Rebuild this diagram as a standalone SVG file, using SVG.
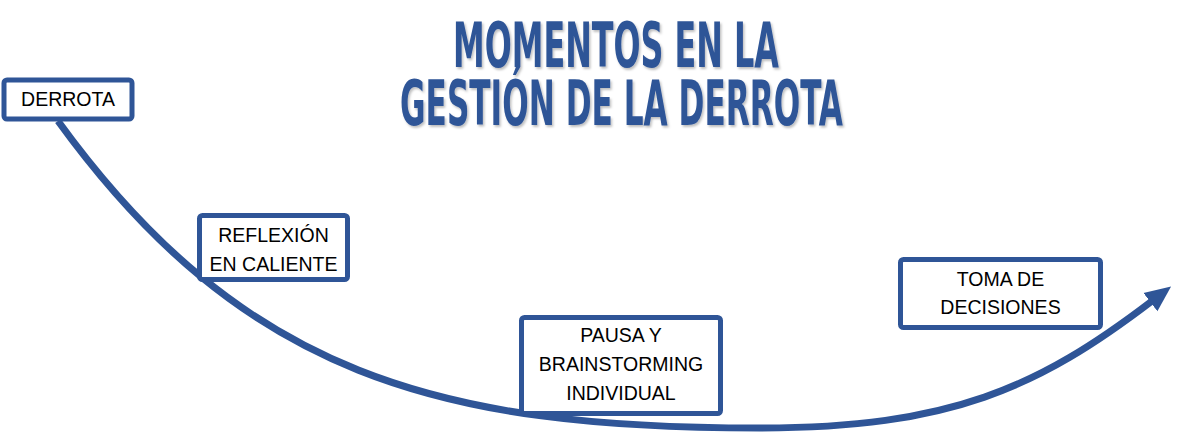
<svg xmlns="http://www.w3.org/2000/svg" width="1196" height="436" viewBox="0 0 1196 436">
<style>
.box{fill:#ffffff;stroke:#2F5597;stroke-width:5}
.lbl{font-family:"Liberation Sans",Arial,sans-serif;font-size:19.5px;fill:#000000;text-anchor:middle}
.title{font-family:"Liberation Sans Narrow","DejaVu Sans Condensed","Liberation Sans",sans-serif;font-weight:bold;font-size:62px;fill:#2F5597}
.conn{fill:none;stroke:#2F5597;stroke-width:7}
</style>
<defs>
<marker id="arrow" markerUnits="userSpaceOnUse" markerWidth="30" markerHeight="30" viewBox="-2 -14 30 28" refX="0" refY="0" orient="auto">
<path d="M-2,-11.5 L24,0 L-2,11.5 Z" fill="#2F5597"/>
</marker>
<filter id="sh" x="-10%" y="-25%" width="120%" height="150%">
<feDropShadow dx="1.5" dy="2" stdDeviation="1.2" flood-color="#000000" flood-opacity="0.25"/>
</filter>
</defs>
<rect width="1196" height="436" fill="#ffffff"/>
<g id="title" filter="url(#sh)">
<text class="title" x="453" y="67" textLength="326" lengthAdjust="spacingAndGlyphs">MOMENTOS EN LA</text>
<text class="title" x="400" y="125" textLength="443" lengthAdjust="spacingAndGlyphs">GESTIÓN DE LA DERROTA</text>
</g>
<g id="connectors">
<path class="conn" d="M58,121 C243,376 440,428 760,428 C950,428 1038,388 1152,301" marker-end="url(#arrow)"/>
</g>
<g id="node-derrota">
<rect class="box" x="4" y="80" width="128" height="39" rx="3"/>
<text class="lbl" x="68" y="106">DERROTA</text>
</g>
<g id="node-reflexion">
<rect class="box" x="199.5" y="215.5" width="148" height="64" rx="3"/>
<text class="lbl" x="273.5" y="242">REFLEXIÓN</text>
<text class="lbl" x="273.5" y="271">EN CALIENTE</text>
</g>
<g id="node-pausa">
<rect class="box" x="521.5" y="317.5" width="199" height="96" rx="3"/>
<text class="lbl" x="621" y="342">PAUSA Y</text>
<text class="lbl" x="621" y="371">BRAINSTORMING</text>
<text class="lbl" x="621" y="400">INDIVIDUAL</text>
</g>
<g id="node-toma">
<rect class="box" x="900.5" y="259.5" width="200" height="68" rx="3"/>
<text class="lbl" x="1000.5" y="286">TOMA DE</text>
<text class="lbl" x="1000.5" y="314">DECISIONES</text>
</g>
</svg>
